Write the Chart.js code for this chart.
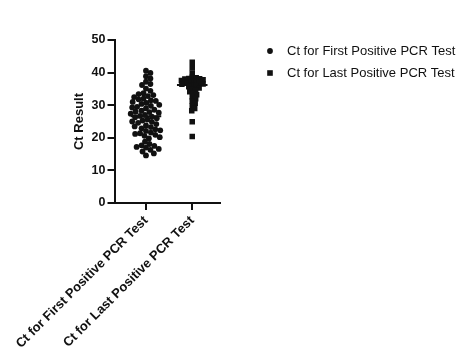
<!DOCTYPE html>
<html>
<head>
<meta charset="utf-8">
<script src="https://cdn.jsdelivr.net/npm/chart.js"></script>
<style>
  html, body { margin: 0; padding: 0; background: #fff; }
  #wrap { width: 474px; height: 362px; }
</style>
</head>
<body>
<div id="wrap"><canvas id="ctChart"></canvas></div>
<script>
    // data
    const categories = ['Ct for First Positive PCR Test', 'Ct for Last Positive PCR Test'];
    const firstCt = [40.6, 39.9, 38.9, 38.2, 37.2, 36.5, 36.2, 35.1, 34.4, 33.7, 33.4, 33.1, 32.8, 32.5,
        32.0, 31.8, 31.5, 31.3, 31.0, 30.7, 30.4, 30.1, 29.8, 29.5, 29.3, 29.0, 28.6, 28.3, 28.0, 27.9,
        27.7, 27.4, 27.0, 26.7, 26.5, 26.3, 26.0, 25.6, 25.3, 25.0, 24.9, 24.6, 24.2, 23.8, 23.5, 23.3,
        22.9, 22.6, 22.3, 22.1, 21.6, 21.4, 21.2, 20.9, 20.6, 20.2, 19.8, 18.8, 18.1, 17.7, 17.5, 17.2,
        17.0, 16.6, 16.3, 15.8, 15.2, 14.6];
    const lastCt = [43.2, 41.5, 39.9, 38.6, 38.4, 38.2, 38.1, 38.0, 37.8, 37.6, 37.4, 37.2, 37.0, 36.9,
        36.7, 36.5, 36.4, 36.2, 36.0, 35.7, 35.3, 34.9, 34.5, 34.1, 33.7, 33.2, 32.6, 32.0, 31.3, 30.6,
        29.8, 29.0, 28.3, 24.9, 20.4];
    const yTicks = [0, 10, 20, 30, 40, 50];

    // rough px per unit, only used to spread the dots sideways (beeswarm)
    const PX_X = 47, PX_Y = 3.26;

    function swarm(values, center, gap) {
        const placed = [];
        return values.slice().sort((a, b) => b - a).map(v => {
            const y = v * PX_Y;
            let off = 0;
            for (let k = 0; k < 400; k++) {
                const c = (k % 2 ? 1 : -1) * Math.ceil(k / 2) * 0.5;
                if (placed.every(p => Math.hypot(p.x - c, p.y - y) >= gap)) { off = c; break; }
            }
            placed.push({ x: off, y: y });
            return { x: center + off / PX_X, y: v };
        });
    }

    function median(arr) {
        const s = arr.slice().sort((a, b) => a - b);
        const m = Math.floor(s.length / 2);
        return s.length % 2 ? s[m] : (s[m - 1] + s[m]) / 2;
    }

    function medianLine(arr, center) {
        const m = median(arr);
        return [{ x: center - 0.33, y: m }, { x: center + 0.33, y: m }];
    }

    const legendPlugin = {
        id: 'sideLegend',
        afterDraw(chart) {
            const ctx = chart.ctx;
            ctx.save();
            ctx.fillStyle = '#111';
            ctx.beginPath();
            ctx.arc(270, 51, 2.9, 0, Math.PI * 2);
            ctx.fill();
            ctx.fillRect(267.2, 70.2, 5.6, 5.6);
            ctx.font = '13px "Liberation Sans", Arial, sans-serif';
            ctx.textBaseline = 'middle';
            ctx.fillText(categories[0], 287, 51);
            ctx.fillText(categories[1], 287, 73);
            ctx.restore();
        }
    };

    const ctx = document.getElementById('ctChart').getContext('2d');

    new Chart(ctx, {
        type: 'scatter',
        data: {
            datasets: [
                {
                    label: categories[0],
                    data: swarm(firstCt, 0, 5.0),
                    pointStyle: 'circle',
                    pointRadius: 2.9,
                    backgroundColor: '#111',
                    borderWidth: 0,
                    order: 1
                },
                {
                    label: categories[1],
                    data: swarm(lastCt, 1, 3.6),
                    pointStyle: 'rect',
                    pointRadius: 3.9,
                    backgroundColor: '#111',
                    borderWidth: 0,
                    order: 1
                },
                {
                    type: 'line',
                    data: medianLine(firstCt, 0),
                    borderColor: '#111',
                    borderWidth: 2,
                    pointRadius: 0,
                    order: 2
                },
                {
                    type: 'line',
                    data: medianLine(lastCt, 1),
                    borderColor: '#111',
                    borderWidth: 2,
                    pointRadius: 0,
                    order: 2
                }
            ]
        },
        options: {
            responsive: true,
            maintainAspectRatio: false,
            animation: false,
            layout: { padding: { left: 70, right: 254, top: 40, bottom: 0 } },
            plugins: {
                legend: { display: false },
                tooltip: { enabled: false }
            },
            scales: {
                x: {
                    type: 'linear',
                    min: -0.68,
                    max: 1.6,
                    afterBuildTicks: s => { s.ticks = [{ value: 0 }, { value: 1 }]; },
                    afterFit: s => { s.height = 159; s.paddingLeft = 0; s.paddingRight = 0; },
                    grid: { drawOnChartArea: false, color: '#111', lineWidth: 2, tickLength: 7 },
                    border: { color: '#111', width: 2 },
                    ticks: {
                        autoSkip: false,
                        minRotation: 45,
                        maxRotation: 45,
                        color: '#111',
                        font: { family: '"Liberation Sans", Arial, sans-serif', size: 13, weight: 'bold' },
                        callback: v => categories[v]
                    }
                },
                y: {
                    min: 0,
                    max: 50,
                    afterBuildTicks: s => { s.ticks = yTicks.map(v => ({ value: v })); },
                    grid: { drawOnChartArea: false, color: '#111', lineWidth: 2, tickLength: 7 },
                    border: { color: '#111', width: 2 },
                    ticks: {
                        color: '#111',
                        padding: 2,
                        font: { family: '"Liberation Sans", Arial, sans-serif', size: 12.5, weight: 'bold' }
                    },
                    title: {
                        display: true,
                        text: 'Ct Result',
                        color: '#111',
                        padding: 2,
                        font: { family: '"Liberation Sans", Arial, sans-serif', size: 13, weight: 'bold' }
                    }
                }
            }
        },
        plugins: [legendPlugin]
    });
</script>
</body>
</html>
